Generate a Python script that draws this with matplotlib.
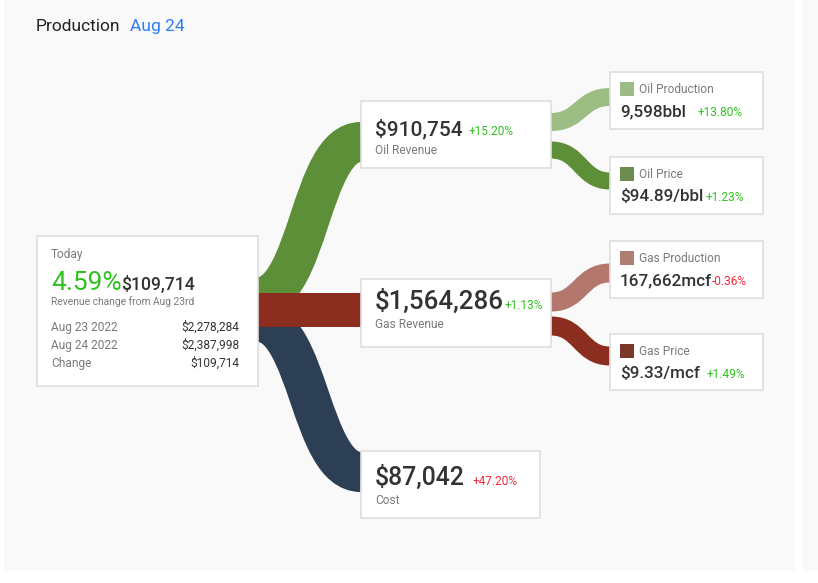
import matplotlib
matplotlib.use("Agg")
import matplotlib.pyplot as plt
from matplotlib.patches import Rectangle, PathPatch
from matplotlib.path import Path

plt.rcParams['font.family'] = ['Roboto', 'DejaVu Sans']

# ---------- data ----------
title_main = "Production"
title_date = "Aug 24"

today_pct = 4.59
today_change = 109714
history_labels = ["Aug 23 2022", "Aug 24 2022", "Change"]
history_values = [2278284, 2387998, 109714]

mid_names = ["Oil Revenue", "Gas Revenue", "Cost"]
mid_values = [910754, 1564286, 87042]
mid_changes = [15.20, 1.13, 47.20]
mid_is_cost = [False, False, True]

leaf_names = ["Oil Production", "Oil Price", "Gas Production", "Gas Price"]
leaf_values = ["9,598", "$94.89", "167,662", "$9.33"]
leaf_units = ["bbl", "/bbl", "mcf", "/mcf"]
leaf_changes = [13.80, 1.23, -0.36, 1.49]

# ---------- styles / layout (pixel units, y down) ----------
GREEN_TXT = "#2fc21f"
RED_TXT = "#f5283a"
DARK = "#333333"
GREY = "#7a7a7a"
BORDER = "#dedede"
SMALL = 8.6

mid_colors = ["#5d8f38", "#8b2e1f", "#2c3f54"]
leaf_colors = ["#9dbd85", "#5d8f38", "#b3776e", "#8b2e1f"]
leaf_swatch = ["#9dbb87", "#6b8e4e", "#b07d73", "#7b3729"]

left_box = (37, 236, 258, 386)
mid_boxes = [(361, 101, 551, 168), (361, 279, 551, 347), (361, 451, 540, 518)]
mid_value_base = [135, 309, 485]
mid_value_size = [15, 18.6, 17.8]
mid_change_x = [469, 505, 473]
leaf_boxes = [(610, 72, 763, 129), (610, 157, 763, 214),
              (610, 241, 763, 298), (610, 334, 763, 390)]
leaf_change_x = [698, 706, 712, 707]

# links: (x0, y0, x1, y1, width)
mid_links = [(258, 297, 361, 142, 40), (258, 310, 361, 310, 34), (258, 322, 361, 472, 40)]
leaf_links = [(551, 122, 610, 97, 18), (551, 150, 610, 181, 17),
              (551, 302, 610, 273, 19), (551, 326, 610, 356, 19)]

PX = 72 / 100  # px -> pt


def fmt_money(v):
    return "${:,}".format(v)


def fmt_pct(v):
    return "{:+.2f}%".format(v)


def link(ax, x0, y0, x1, y1, w, color, z):
    xm = (x0 + x1) / 2
    path = Path([(x0, y0), (xm, y0), (xm, y1), (x1, y1)],
                [Path.MOVETO, Path.CURVE4, Path.CURVE4, Path.CURVE4])
    patch = PathPatch(path, facecolor="none", edgecolor=color,
                      linewidth=w * PX, capstyle="butt", zorder=z)
    ax.add_patch(patch)


def box(ax, b):
    x0, y0, x1, y1 = b
    ax.add_patch(Rectangle((x0, y0), x1 - x0, y1 - y0, facecolor="white",
                           edgecolor=BORDER, linewidth=1.2, zorder=5))


fig = plt.figure(figsize=(8.18, 5.83), dpi=100)
ax = fig.add_axes([0, 0, 1, 1])
ax.set_xlim(0, 818)
ax.set_ylim(583, 0)
ax.axis("off")

# background panels
ax.add_patch(Rectangle((4, 0), 791, 571, facecolor="#f9f9f9", edgecolor="none", zorder=0))
ax.add_patch(Rectangle((802, 0), 20, 571, facecolor="#f9f9f9", edgecolor="none", zorder=0))

# title
ax.text(36, 31, title_main, fontsize=12.5, color="#222222", va="baseline", zorder=6)
ax.text(130, 31, title_date, fontsize=12.5, color="#2f7cf6", va="baseline", zorder=6)

# links (red last so it sits on top)
for i in [0, 2, 1]:
    x0, y0, x1, y1, w = mid_links[i]
    link(ax, x0, y0, x1, y1, w, mid_colors[i], 2)
for i, (x0, y0, x1, y1, w) in enumerate(leaf_links):
    link(ax, x0, y0, x1, y1, w, leaf_colors[i], 2)

# left box
box(ax, left_box)
lx = left_box[0] + 14
ax.text(lx, 258, "Today", fontsize=SMALL, color=GREY, va="baseline", zorder=6)
ax.text(lx, 290, "{:.2f}%".format(today_pct), fontsize=19, color=GREEN_TXT,
        va="baseline", zorder=6)
ax.text(121, 290, fmt_money(today_change), fontsize=12.7, color=DARK,
        fontweight="medium", va="baseline", zorder=6)
ax.text(lx, 305, "Revenue change from Aug 23rd", fontsize=7.4, color=GREY,
        va="baseline", zorder=6)
for k, (lab, val) in enumerate(zip(history_labels, history_values)):
    yb = 331 + 18 * k
    ax.text(lx, yb, lab, fontsize=SMALL, color=GREY, va="baseline", zorder=6)
    ax.text(239, yb, fmt_money(val), fontsize=SMALL, color=DARK, ha="right",
            va="baseline", zorder=6)

# middle boxes
for i, b in enumerate(mid_boxes):
    box(ax, b)
    yb = mid_value_base[i]
    ax.text(b[0] + 14, yb, fmt_money(mid_values[i]), fontsize=mid_value_size[i],
            color=DARK, fontweight="medium", va="baseline", zorder=6)
    good = (mid_changes[i] > 0) != mid_is_cost[i]
    ax.text(mid_change_x[i], yb, fmt_pct(mid_changes[i]), fontsize=SMALL,
            color=GREEN_TXT if good else RED_TXT, va="baseline", zorder=6)
    ax.text(b[0] + 14, yb + 19, mid_names[i], fontsize=SMALL, color=GREY,
            va="baseline", zorder=6)

# leaf boxes
for i, b in enumerate(leaf_boxes):
    box(ax, b)
    x0, y0 = b[0], b[1]
    ax.add_patch(Rectangle((x0 + 10, y0 + 10), 14, 14, facecolor=leaf_swatch[i],
                           edgecolor="none", zorder=6))
    ax.text(x0 + 29, y0 + 21, leaf_names[i], fontsize=SMALL, color=GREY,
            va="baseline", zorder=6)
    ax.text(x0 + 10, y0 + 44, leaf_values[i] + leaf_units[i], fontsize=12.3,
            color=DARK, fontweight="medium", va="baseline", zorder=6)
    good = leaf_changes[i] > 0
    ax.text(leaf_change_x[i], y0 + 44, fmt_pct(leaf_changes[i]),
            fontsize=SMALL, color=GREEN_TXT if good else RED_TXT, va="baseline", zorder=6)

fig.savefig("out.png", dpi=100)
